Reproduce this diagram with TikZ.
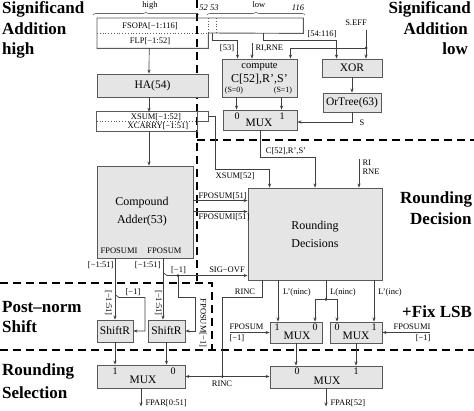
\documentclass[tikz,border=0pt]{standalone}
\usepackage{fontspec}
\setmainfont{Liberation Serif}
\usetikzlibrary{arrows.meta,decorations.pathreplacing}
\begin{document}
\begin{tikzpicture}[x=1pt,y=-1pt,
  blk/.style={draw=black!65, fill=black!10, line width=0.9pt, inner sep=0pt},
  wire/.style={draw=black!75, line width=0.7pt},
  arr/.style={wire, -{Stealth[length=4pt,width=3.2pt]}},
  lbl/.style={font=\fontsize{8.5}{9}\selectfont, inner sep=0.3pt},
  big/.style={font=\fontsize{12}{18}\selectfont, align=center, inner sep=0pt},
  mid/.style={font=\fontsize{11.5}{12}\selectfont},
  sect/.style={font=\bfseries\fontsize{17}{21}\selectfont, inner sep=0pt, anchor=base west},
  bnd/.style={line width=2.6pt, dash pattern=on 8pt off 5pt},
  jdot/.style={circle, fill=black!80, inner sep=0pt, minimum size=3pt},
  num/.style={font=\fontsize{10}{10}\selectfont, inner sep=0pt}
]
\useasboundingbox (0,0) rectangle (474,410);

% ---------- section titles ----------
\node[sect] (t1) at (2,13) {Significand};
\node[sect] (t2) at (2,34) {Addition};
\node[sect] (t3) at (2,54) {high};
\node[sect, anchor=base east] (t4) at (471,13) {Significand};
\node[sect, anchor=base east] (t5) at (468,34) {Addition};
\node[sect, anchor=base east] (t6) at (468,54) {low};
\node[sect] (t7) at (400,203) {Rounding};
\node[sect] (t8) at (410,224) {Decision};
\node[sect] (t9) at (402,317) {+Fix LSB};
\node[sect] (t10) at (2,312) {Post–norm};
\node[sect] (t11) at (2,332) {Shift};
\node[sect] (t12) at (2,375) {Rounding};
\node[sect] (t13) at (2,398) {Selection};

% ---------- boundaries ----------
\draw[bnd] (197,0) -- (197,283);
\draw[bnd] (197,140) -- (474,140);
\draw[bnd] (0,283) -- (212,283) -- (212,350);
\draw[bnd] (0,350) -- (474,350);

% ---------- top operand box ----------
\node[minimum width=206pt, minimum height=15pt, inner sep=0pt, anchor=north west] (toph) at (97,18) {};
\node[minimum width=111pt, minimum height=15pt, inner sep=0pt, anchor=north west] (topl) at (97,33) {};
\draw[draw=black!65, line width=0.9pt] (toph.north west) -- (toph.north east) -- (toph.south east)
  -- (topl.north east) -- (topl.south east) -- (topl.south west) -- cycle;
\draw[black!65, dotted, line width=0.8pt] (topl.north west) -- (topl.north east);
\draw[black!65, dotted, line width=0.8pt] ([xshift=111pt]toph.north west) -- ([xshift=111pt]toph.south west);
\draw[black!65, dotted, line width=0.8pt] ([xshift=119pt]toph.north west) -- ([xshift=119pt]toph.south west);
\node[lbl] (fsopa) at (150,26) {FSOPA[−1:116]};
\node[lbl] (flp) at (150,41) {FLP[−1:52]};

% braces
\draw[black!60, line width=0.6pt, decorate, decoration={brace, amplitude=3pt}] (93,15) -- (199,15);
\draw[black!60, line width=0.6pt, decorate, decoration={brace, amplitude=3pt}] (207,15) -- (305,15);
\node[lbl] (hi) at (150,5) {high};
\node[lbl] (lo) at (259,5) {low};
\node[lbl] (n52) at (209,8) {\itshape 52 53};
\node[lbl] (n116) at (298,8) {\itshape 116};

% ---------- blocks ----------
\node[blk, minimum width=111pt, minimum height=23pt, mid] (ha) at (152.5,85.5) {HA(54)};
\node[blk, minimum width=75pt, minimum height=38pt] (comp) at (259.5,78) {};
\node[font=\fontsize{10.5}{11}\selectfont, inner sep=0pt] (compa) at (259.5,67) {compute};
\node[font=\fontsize{12}{12}\selectfont, inner sep=0pt] (compb) at (259.5,79) {C[52],R',S'};
\node[font=\fontsize{8}{8}\selectfont, inner sep=0pt] (s0) at (234,91) {(S=0)};
\node[font=\fontsize{8}{8}\selectfont, inner sep=0pt] (s1) at (283,91) {(S=1)};
\node[blk, minimum width=60pt, minimum height=18pt, mid] (xor) at (352,68) {XOR};
\node[blk, minimum width=58pt, minimum height=19pt, mid] (ort) at (352,102.5) {OrTree(63)};
\node[blk, minimum width=74pt, minimum height=20pt] (mux0) at (260,120) {};
\node[mid, inner sep=0pt] (mux0t) at (259,123) {MUX};
\node[num] (mux0a) at (237,116) {0};
\node[num] (mux0b) at (282,116) {1};

% XSUM box
\node[minimum width=111pt, minimum height=19pt, inner sep=0pt] (xsum) at (152.5,121.5) {};
\draw[draw=black!65, line width=0.9pt] (xsum.north west) -- (xsum.north east) -- ([yshift=-10pt]xsum.north east)
  -- ([shift={(-11,10)}]xsum.north east) -- ([xshift=-11pt]xsum.south east) -- (xsum.south west) -- cycle;
\draw[draw=black!65, line width=0.9pt] ([xshift=-11pt]xsum.north east) -- ([shift={(-11,10)}]xsum.north east);
\draw[black!65, dotted, line width=0.8pt] ([yshift=-10pt]xsum.north west) -- ([shift={(-11,10)}]xsum.north east);
\node[lbl] (xsuml) at (156,117) {XSUM[−1:52]};
\node[lbl] (xcar) at (158,126.5) {XCARRY[−1:51]};

\node[blk, minimum width=96pt, minimum height=92pt] (add) at (145,212) {};
\node[big] (addt) at (142,212) {Compound\\Adder(53)};
\node[lbl] (addl) at (119,251) {FPOSUMI};
\node[lbl] (addr) at (164.5,251) {FPOSUM};

\node[blk, minimum width=134pt, minimum height=92pt] (rd) at (315,234) {};
\node[big] (rdt) at (315,234) {Rounding\\Decisions};

\node[blk, minimum width=36pt, minimum height=22pt, mid] (sr1) at (115,331) {ShiftR};
\node[blk, minimum width=37pt, minimum height=22pt, mid] (sr2) at (166.5,331) {ShiftR};

\node[blk, minimum width=88pt, minimum height=23pt] (mux1) at (141,376.5) {};
\node[mid, inner sep=0pt] (mux1t) at (143,380) {MUX};
\node[num] (mux1a) at (115,371) {1};
\node[num] (mux1b) at (173,371) {0};

\node[blk, minimum width=52pt, minimum height=21pt] (muxa) at (296,332.5) {};
\node[mid, inner sep=0pt] (muxat) at (297,336) {MUX};
\node[num] (muxaa) at (277,327) {1};
\node[num] (muxab) at (315,327) {0};

\node[blk, minimum width=52pt, minimum height=21pt] (muxb) at (356,332.5) {};
\node[mid, inner sep=0pt] (muxbt) at (356,336) {MUX};
\node[num] (muxba) at (337,327) {0};
\node[num] (muxbb) at (374,327) {1};

\node[blk, minimum width=112pt, minimum height=22pt] (mux3) at (326,377) {};
\node[mid, inner sep=0pt] (mux3t) at (327,381) {MUX};
\node[num] (mux3a) at (297,371) {0};
\node[num] (mux3b) at (356,371) {1};

% ---------- wires: significand high ----------
\draw[arr] ([xshift=-3.5pt]topl.south) -- ([xshift=-3.5pt]ha.north);
\draw[arr] ([xshift=-3.5pt]ha.south) -- ([xshift=-3.5pt]xsum.north);
\draw[arr] ([xshift=-3.5pt]xsum.south) -- ([xshift=4pt]add.north);

% ---------- wires: significand low ----------
\draw[arr] ([xshift=115pt]toph.south west) -- ++(0,7) -| ([xshift=16pt]comp.north west);
\node[lbl] (l53) at (227,48) {[53]};
\draw[arr] ([xshift=166pt]toph.south west) -- ++(0,7) -| ([xshift=15pt]xor.north west);
\node[lbl] (l54) at (322,34) {[54:116]};
\coordinate (rirne0) at (252,43);
\draw[arr] (rirne0) -- (rirne0 |- comp.north);
\node[lbl, anchor=west] (lrirne) at (255,48) {RI,RNE};
\coordinate (seff) at (366,30);
\draw[arr] (seff) -- (seff |- xor.north);
\node[lbl] (lseff) at (356,23) {S.EFF};
\coordinate (sj) at (366,48);
\node[jdot] (sjd) at (sj) {};
\draw[arr] (sj) -| ([xshift=-7pt]comp.north east);
\draw[arr] (xor.south) -- (ort.north);
\draw[arr] (ort.south) |- ([yshift=-2pt]mux0.east);
\node[lbl, anchor=west] (ls) at (359,123) {S};
\draw[arr] ([xshift=15pt]comp.south west) -- ([xshift=14pt]mux0.north west);
\draw[arr] ([xshift=60pt]comp.south west) -- ([xshift=59pt]mux0.north west);

% ---------- wires: rounding decision inputs ----------
\draw[arr] (mux0.south) -- ++(0,27) -| (rd.north);
\node[lbl] (lc52) at (286,151) {C[52],R',S'};
\draw[arr] ([yshift=-5pt]xsum.north east) -| ++(7,53) -| ([xshift=22pt]rd.north west);
\node[lbl] (lx52) at (235,176) {XSUM[52]};
\coordinate (ri0) at (359,159);
\draw[arr] (ri0) -- (ri0 |- rd.north);
\node[lbl, anchor=west] (lri) at (362,163) {RI};
\node[lbl, anchor=west] (lrne) at (362,172) {RNE};
\draw[arr] ([yshift=-35pt]add.north east) -- ([yshift=-13pt]rd.north west);
\node[lbl, anchor=west] (lf51) at (198,196) {FPOSUM[51]};
\draw[arr] ([yshift=-46pt]add.north east) -- ([yshift=-24pt]rd.north west);
\node[lbl, anchor=west] (lfi51) at (198,217) {FPOSUMI[51]};

% ---------- post-norm shift ----------
\coordinate (f1) at (sr1.north);
\draw[arr] (f1 |- add.south) -- (f1);
\node[lbl, anchor=east] (lb1) at (114,265) {[−1:51]};
\node[lbl, rotate=-90] (lb1r) at (108.5,303) {[−1:51]};
\coordinate (b1) at ([yshift=25pt]sr1.north);
\draw[arr] (b1) -- ++(4,3) -- ++(26,0) |- (sr1.east);
\node[lbl] (lb1c) at (133,292) {[−1]};

\coordinate (f0) at ([xshift=-3.5pt]sr2.north);
\draw[arr] (f0 |- add.south) -- (f0);
\node[lbl, anchor=east] (lb2) at (161,265) {[−1:51]};
\node[lbl, rotate=-90] (lb2r) at (158.5,303) {[−1:51]};
\coordinate (b2) at ([yshift=47pt]f0);
\coordinate (b2b) at ([shift={(4,3)}]b2);
\draw[arr] (b2) -- (b2b) -- (b2b -| rd.west);
\node[lbl] (lb2c) at (178.5,270) {[−1]};
\node[lbl] (lsig) at (227,270) {SIG−OVF};
\coordinate (b2c) at ([xshift=11pt]b2b);
\node[jdot] (b2d) at (b2c) {};
\draw[arr] (b2c) -- ++(0,22) -- ++(17,0) |- (sr2.east);
\node[lbl, rotate=-90] (lfm1) at (203,323) {FPOSUM[−1]};

% ---------- rounding selection ----------
\draw[arr] (sr1.south) -- (sr1.south |- mux1.north);
\draw[arr] (sr2.south) -- (sr2.south |- mux1.north);
\coordinate (r0) at ([xshift=15pt]rd.south west);
\coordinate (r1) at ([xshift=37pt]mux1.east);
\draw[wire] (r0) -- ++(0,17) -| (r1);
\node[jdot] (r1d) at (r1) {};
\draw[arr] (r1) -- (mux1.east);
\draw[arr] (r1) -- (r1 -| mux3.west);
\node[lbl] (lrinc) at (245,292) {RINC};
\node[lbl] (lrinc2) at (222,384) {RINC};

% ---------- fix LSB ----------
\coordinate (la) at ([xshift=-18pt]muxa.north);
\draw[arr] (la |- rd.south) -- (la);
\node[lbl] (lla) at (297,292) {L'(ninc)};
\coordinate (l0) at ([xshift=11pt]rd.south);
\coordinate (lj) at ([shift={(0,19)}]l0);
\draw[wire] (l0) -- (lj);
\node[jdot] (ljd) at (lj) {};
\draw[arr] (lj) -| ([xshift=19pt]muxa.north);
\draw[arr] (lj) -| ([xshift=-19pt]muxb.north);
\node[lbl] (llb) at (343,292) {L(ninc)};
\coordinate (lb) at ([xshift=18pt]muxb.north);
\draw[arr] (lb |- rd.south) -- (lb);
\node[lbl] (llc) at (390,292) {L'(inc)};

\coordinate (fa) at (230,332.5);
\draw[arr] (fa) -- (muxa.west);
\node[lbl, anchor=west] (lfa1) at (229,327) {FPOSUM};
\node[lbl, anchor=west] (lfa2) at (229,338) {[−1]};
\coordinate (fb) at (430,332.5);
\draw[arr] (fb) -- (muxb.east);
\node[lbl, anchor=east] (lfb1) at (431,327) {FPOSUMI};
\node[lbl, anchor=east] (lfb2) at (431,338) {[−1]};

\draw[arr] (muxa.south) -- (muxa.south |- mux3.north);
\draw[arr] (muxb.south) -- (muxb.south |- mux3.north);

% ---------- outputs ----------
\draw[arr] (mux1.south) -- ++(0,18);
\node[lbl, anchor=west] (lo1) at (145,403) {FPAR[0:51]};
\draw[arr] (mux3.south) -- ++(0,18);
\node[lbl, anchor=west] (lo2) at (330,403) {FPAR[52]};
\end{tikzpicture}
\end{document}
